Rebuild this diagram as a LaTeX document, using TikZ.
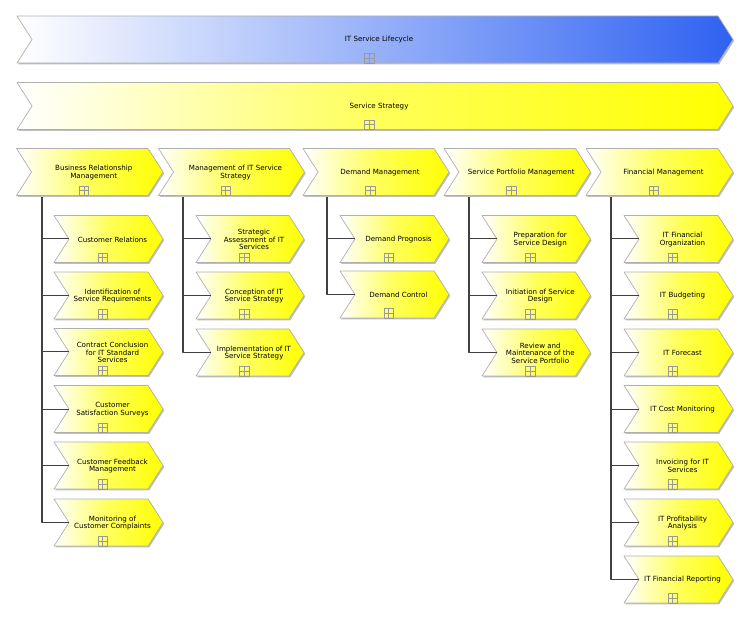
\documentclass[tikz,border=0pt]{standalone}
\usepackage{fontspec}
\setmainfont{DejaVu Sans}
\definecolor{edgegray}{HTML}{B0B0B0}
\definecolor{shadegray}{HTML}{BEBEBE}
\definecolor{linkgray}{HTML}{404040}
\definecolor{lifeblue}{HTML}{2F62F2}
\tikzset{
	chevfill/.style={draw=edgegray, line width=0.7pt, line join=round, left color=white, right color=yellow, middle color=yellow!65!white},
	bluefill/.style={draw=edgegray, line width=0.7pt, line join=round, left color=white, right color=lifeblue},
	chevtext/.style={align=center, inner sep=0pt, text=black, font=\fontsize{7.1}{7.6}\selectfont},
	plusbox/.style={draw=black!40, line width=0.35pt, minimum size=9.5pt, inner sep=0pt},
	stem/.style={draw=linkgray, line width=1.5pt},
	branch/.style={draw=linkgray, line width=1pt}
}
% #1 name, #2 left, #3 top, #4 width, #5 fill style, #6 text
\newcommand{\chev}[6]{
	\fill[shadegray, shift={(#2+1.2,#3+1.4)}] (0,0)--(#4-15,0)--(#4,23.5)--(#4-15,47)--(0,47)--(15,23.5)--cycle;
	\draw[#5, shift={(#2,#3)}] (0,0)--(#4-15,0)--(#4,23.5)--(#4-15,47)--(0,47)--(15,23.5)--cycle;
	\coordinate (#1) at (#2+15,#3+23.5);
	\node[chevtext] (#1-t) at (#2+#4/2+4,#3+24) {#6};
	\node[plusbox] (#1-i) at (#2+#4/2-6,#3+42) {};
	\draw[black!40, line width=0.35pt] (#1-i.north)--(#1-i.south) (#1-i.west)--(#1-i.east);
}
\begin{document}
\begin{tikzpicture}[x=1pt, y=-1pt, line join=round]
	\useasboundingbox (0,0) rectangle (750,620);
	\coordinate (bizst) at (42,195);
	\coordinate (itsst) at (183,195);
	\coordinate (demst) at (327,195);
	\coordinate (porst) at (469,195);
	\coordinate (finst) at (611,195);
	% links
	\coordinate (bizend) at (68,522.5);
	\coordinate (itsend) at (211,352.5);
	\coordinate (demend) at (355,294.5);
	\coordinate (porend) at (497,352.5);
	\coordinate (finend) at (639,579.5);
	\draw[stem] (bizst) |- (bizend);
	\draw[stem] (itsst) |- (itsend);
	\draw[stem] (demst) |- (demend);
	\draw[stem] (porst) |- (porend);
	\draw[stem] (finst) |- (finend);
	% top bars
	\chev{life}{17}{16}{716}{bluefill}{IT Service Lifecycle}
	\chev{strat}{17}{82.5}{716}{chevfill}{Service Strategy}
	% main row
	\chev{biz}{16.5}{148.5}{146.5}{chevfill}{Business Relationship\\Management}
	\chev{its}{158.5}{148.5}{146}{chevfill}{Management of IT Service\\Strategy}
	\chev{dem}{303}{148.5}{146}{chevfill}{Demand Management}
	\chev{por}{444}{148.5}{146.5}{chevfill}{Service Portfolio Management}
	\chev{fin}{586}{148.5}{147}{chevfill}{Financial Management}
	% column 1
	\chev{bizA}{54}{215.5}{109}{chevfill}{Customer Relations}
	\chev{bizB}{54}{272}{109}{chevfill}{Identification of\\Service Requirements}
	\chev{bizC}{54}{328.5}{109}{chevfill}{Contract Conclusion\\for IT Standard\\Services}
	\chev{bizD}{54}{385.5}{109}{chevfill}{Customer\\Satisfaction Surveys}
	\chev{bizE}{54}{442}{109}{chevfill}{Customer Feedback\\Management}
	\chev{bizF}{54}{499}{109}{chevfill}{Monitoring of\\Customer Complaints}
	% column 2
	\chev{itsA}{196}{215.5}{108}{chevfill}{Strategic\\Assessment of IT\\Services}
	\chev{itsB}{196}{272}{108}{chevfill}{Conception of IT\\Service Strategy}
	\chev{itsC}{196}{329}{108}{chevfill}{Implementation of IT\\Service Strategy}
	% column 3
	\chev{demA}{340}{215.5}{109}{chevfill}{Demand Prognosis}
	\chev{demB}{340}{271}{109}{chevfill}{Demand Control}
	% column 4
	\chev{porA}{482}{215.5}{108.5}{chevfill}{Preparation for\\Service Design}
	\chev{porB}{482}{272}{108.5}{chevfill}{Initiation of Service\\Design}
	\chev{porC}{482}{329}{108.5}{chevfill}{Review and\\Maintenance of the\\Service Portfolio}
	% column 5
	\chev{finA}{624}{215.5}{109}{chevfill}{IT Financial\\Organization}
	\chev{finB}{624}{272}{109}{chevfill}{IT Budgeting}
	\chev{finC}{624}{329}{109}{chevfill}{IT Forecast}
	\chev{finD}{624}{385.5}{109}{chevfill}{IT Cost Monitoring}
	\chev{finE}{624}{442}{109}{chevfill}{Invoicing for IT\\Services}
	\chev{finF}{624}{499}{109}{chevfill}{IT Profitability\\Analysis}
	\chev{finG}{624}{556}{109}{chevfill}{IT Financial Reporting}
	% branches
	\foreach \nm in {bizA,bizB,bizC,bizD,bizE,bizF} \draw[branch] (bizst |- \nm) -- (\nm);
	\foreach \nm in {itsA,itsB,itsC} \draw[branch] (itsst |- \nm) -- (\nm);
	\foreach \nm in {demA,demB} \draw[branch] (demst |- \nm) -- (\nm);
	\foreach \nm in {porA,porB,porC} \draw[branch] (porst |- \nm) -- (\nm);
	\foreach \nm in {finA,finB,finC,finD,finE,finF,finG} \draw[branch] (finst |- \nm) -- (\nm);
\end{tikzpicture}
\end{document}
